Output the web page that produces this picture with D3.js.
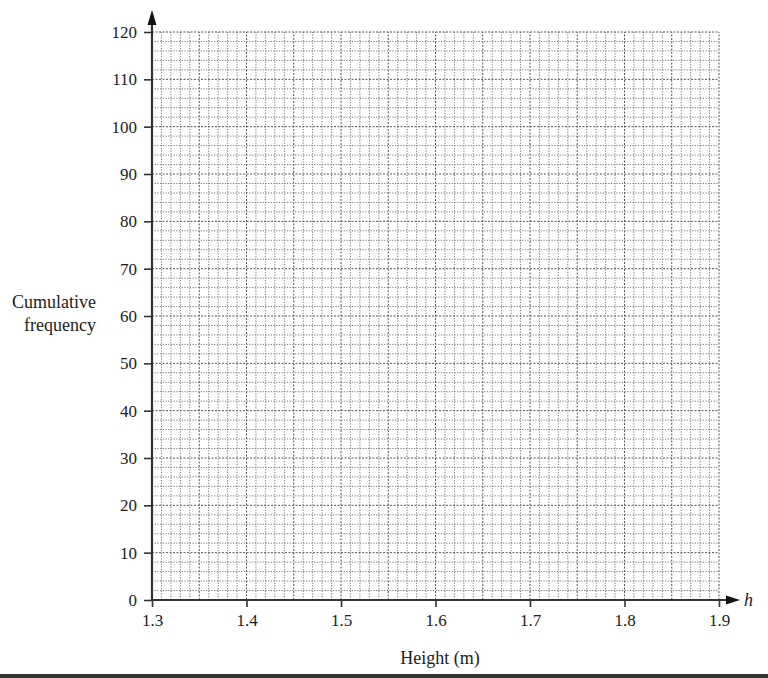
<!DOCTYPE html>
<html>
<head>
<meta charset="utf-8">
<script src="https://cdn.jsdelivr.net/npm/d3@7"></script>
<style>
  body { margin: 0; background: #fff; }
  svg { display: block; }
</style>
</head>
<body>
<svg width="768" height="678"></svg>
<script>
// axis data
const xTicks = [1.3, 1.4, 1.5, 1.6, 1.7, 1.8, 1.9];
const yTicks = [0, 10, 20, 30, 40, 50, 60, 70, 80, 90, 100, 110, 120];
const xDomain = [1.3, 1.9];
const yDomain = [0, 120];
const xStep = 0.01;   // small squares along x
const yStep = 2;      // small squares along y

const svg = d3.select("svg");
const margin = { top: 32, left: 152, right: 49, bottom: 78 };
const width = 768, height = 678;

const x = d3.scaleLinear().domain(xDomain).range([margin.left, width - margin.right]);
const y = d3.scaleLinear().domain(yDomain).range([height - margin.bottom, margin.top]);

const axisColor = "#333";
const textColor = "#222";
const font = '"Liberation Serif", "DejaVu Serif", serif';

// grid of small squares
const grid = svg.append("g").attr("class", "grid");
const nx = Math.round((xDomain[1] - xDomain[0]) / xStep);
const ny = Math.round((yDomain[1] - yDomain[0]) / yStep);
const xs = d3.range(1, nx + 1).map(i => xDomain[0] + i * xStep);
const ys = d3.range(1, ny + 1).map(i => yDomain[0] + i * yStep);

grid.selectAll("line.v").data(xs).enter().append("line")
  .attr("class", "v")
  .attr("x1", d => x(d)).attr("x2", d => x(d))
  .attr("y1", y(yDomain[0])).attr("y2", y(yDomain[1]))
  .attr("stroke", (d, i) => (i + 1) % 5 === 0 ? "#555" : "#777")
  .attr("stroke-width", 1)
  .attr("stroke-dasharray", (d, i) => (i + 1) % 5 === 0 ? "2,1.5" : "1.2,1.5");

grid.selectAll("line.h").data(ys).enter().append("line")
  .attr("class", "h")
  .attr("y1", d => y(d)).attr("y2", d => y(d))
  .attr("x1", x(xDomain[0])).attr("x2", x(xDomain[1]))
  .attr("stroke", (d, i) => (i + 1) % 5 === 0 ? "#555" : "#777")
  .attr("stroke-width", 1)
  .attr("stroke-dasharray", (d, i) => (i + 1) % 5 === 0 ? "2,1.5" : "1.2,1.5");

// axes (ticks and labels only, lines drawn below)
const xAxis = svg.append("g")
  .attr("transform", `translate(0,${y(0)})`)
  .call(d3.axisBottom(x).tickValues(xTicks).tickFormat(d3.format(".1f")).tickSize(7).tickPadding(7));

const yAxis = svg.append("g")
  .attr("transform", `translate(${x(xDomain[0])},0)`)
  .call(d3.axisLeft(y).tickValues(yTicks).tickSize(8).tickPadding(7));

[xAxis, yAxis].forEach(ax => {
  ax.attr("font-family", font).attr("font-size", 17);
  ax.select(".domain").remove();
  ax.selectAll(".tick line").attr("stroke", axisColor).attr("stroke-width", 1.6);
  ax.selectAll(".tick text").attr("fill", textColor);
});

// axis lines with arrow heads
svg.append("line")
  .attr("x1", x(xDomain[0]) - 1).attr("x2", 730)
  .attr("y1", y(0)).attr("y2", y(0))
  .attr("stroke", axisColor).attr("stroke-width", 2.2);
svg.append("path")
  .attr("d", `M${726},${y(0) - 4.5} L${740},${y(0)} L${726},${y(0) + 4.5} Z`)
  .attr("fill", "#111");

svg.append("line")
  .attr("x1", x(xDomain[0])).attr("x2", x(xDomain[0]))
  .attr("y1", y(0) + 1).attr("y2", 22)
  .attr("stroke", axisColor).attr("stroke-width", 2.2);
svg.append("path")
  .attr("d", `M${x(xDomain[0]) - 4.5},${25} L${x(xDomain[0])},${10} L${x(xDomain[0]) + 4.5},${25} Z`)
  .attr("fill", "#111");

// labels
svg.append("text")
  .attr("x", 744).attr("y", 606)
  .attr("font-family", font).attr("font-style", "italic").attr("font-size", 18)
  .attr("fill", textColor)
  .text("h");

const yLab = svg.append("text")
  .attr("text-anchor", "end")
  .attr("font-family", font).attr("font-size", 18)
  .attr("fill", textColor);
yLab.append("tspan").attr("x", 96).attr("y", 308).text("Cumulative");
yLab.append("tspan").attr("x", 96).attr("y", 331).text("frequency");

svg.append("text")
  .attr("x", 440).attr("y", 664)
  .attr("text-anchor", "middle")
  .attr("font-family", font).attr("font-size", 18)
  .attr("fill", textColor)
  .text("Height (m)");

// dark band at the bottom edge of the page
svg.append("rect")
  .attr("x", 0).attr("y", 674).attr("width", width).attr("height", 4)
  .attr("fill", "#333");
</script>
</body>
</html>
